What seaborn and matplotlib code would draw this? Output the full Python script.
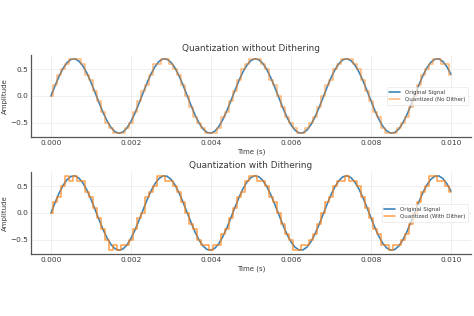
import pandas as pd
import matplotlib
matplotlib.use("Agg")
import matplotlib.pyplot as plt
import seaborn as sns

time_ms = list(range(0, 101))  # sample index, 0.1 ms apart

original_signal = [
    0.000, 0.191, 0.368, 0.516, 0.626, 0.688, 0.697, 0.654, 0.561, 0.426,
    0.258, 0.070, -0.123, -0.306, -0.466, -0.591, -0.671, -0.700, -0.676, -0.600,
    -0.479, -0.322, -0.140, 0.053, 0.241, 0.411, 0.550, 0.648, 0.696, 0.691,
    0.633, 0.528, 0.382, 0.208, 0.018, -0.174, -0.353, -0.504, -0.618, -0.684,
    -0.699, -0.660, -0.572, -0.439, -0.274, -0.088, 0.105, 0.290, 0.453, 0.581,
    0.666, 0.700, 0.680, 0.609, 0.492, 0.337, 0.157, -0.035, -0.225, -0.397,
    -0.539, -0.641, -0.693, -0.693, -0.641, -0.539, -0.397, -0.225, -0.035, 0.157,
    0.337, 0.492, 0.609, 0.680, 0.700, 0.666, 0.581, 0.453, 0.290, 0.105,
    -0.088, -0.274, -0.439, -0.572, -0.660, -0.699, -0.684, -0.618, -0.504, -0.353,
    -0.174, 0.018, 0.208, 0.382, 0.528, 0.633, 0.691, 0.696, 0.648, 0.550,
    0.411,
]

quantized_no_dither = [
    0.0, 0.2, 0.4, 0.5, 0.6, 0.7, 0.7, 0.7, 0.6, 0.4,
    0.3, 0.1, -0.1, -0.3, -0.5, -0.6, -0.7, -0.7, -0.7, -0.6,
    -0.5, -0.3, -0.1, 0.1, 0.2, 0.4, 0.6, 0.6, 0.7, 0.7,
    0.6, 0.5, 0.4, 0.2, 0.0, -0.2, -0.4, -0.5, -0.6, -0.7,
    -0.7, -0.7, -0.6, -0.4, -0.3, -0.1, 0.1, 0.3, 0.5, 0.6,
    0.7, 0.7, 0.7, 0.6, 0.5, 0.3, 0.2, 0.0, -0.2, -0.4,
    -0.5, -0.6, -0.7, -0.7, -0.6, -0.5, -0.4, -0.2, 0.0, 0.2,
    0.3, 0.5, 0.6, 0.7, 0.7, 0.7, 0.6, 0.5, 0.3, 0.1,
    -0.1, -0.3, -0.4, -0.6, -0.7, -0.7, -0.7, -0.6, -0.5, -0.4,
    -0.2, 0.0, 0.2, 0.4, 0.5, 0.6, 0.7, 0.7, 0.6, 0.6,
    0.4,
]

quantized_with_dither = [
    0.0, 0.2, 0.3, 0.5, 0.7, 0.6, 0.7, 0.6, 0.6, 0.4,
    0.3, 0.1, -0.1, -0.3, -0.5, -0.7, -0.6, -0.7, -0.6, -0.6,
    -0.5, -0.3, -0.1, 0.0, 0.3, 0.4, 0.5, 0.7, 0.7, 0.6,
    0.6, 0.5, 0.4, 0.2, 0.0, -0.2, -0.3, -0.5, -0.6, -0.6,
    -0.7, -0.6, -0.6, -0.4, -0.3, -0.1, 0.1, 0.3, 0.4, 0.6,
    0.7, 0.7, 0.6, 0.6, 0.5, 0.3, 0.2, 0.0, -0.2, -0.4,
    -0.5, -0.7, -0.7, -0.6, -0.6, -0.5, -0.4, -0.2, 0.0, 0.2,
    0.3, 0.5, 0.6, 0.6, 0.7, 0.6, 0.6, 0.5, 0.3, 0.1,
    -0.1, -0.3, -0.4, -0.6, -0.6, -0.7, -0.6, -0.6, -0.5, -0.4,
    -0.2, 0.0, 0.2, 0.4, 0.5, 0.7, 0.7, 0.6, 0.6, 0.5,
    0.4,
]

df = pd.DataFrame({
    "t": [i * 0.0001 for i in time_ms],
    "signal": original_signal,
    "q_plain": quantized_no_dither,
    "q_dither": quantized_with_dither,
})

sns.set_style("whitegrid")
plt.rcParams["font.family"] = ["DejaVu Sans"]
text_color = "#3a3a3a"
plt.rcParams.update({
    "text.color": text_color,
    "axes.labelcolor": text_color,
    "xtick.color": text_color,
    "ytick.color": text_color,
    "grid.color": "#ececec",
    "grid.linewidth": 0.6,
})

fig = plt.figure(figsize=(4.74, 3.16), dpi=100)
ax1 = fig.add_axes([0.0654, 0.5665, 0.928, 0.2595])
ax2 = fig.add_axes([0.0654, 0.1962, 0.928, 0.2595])

panels = [
    (ax1, "q_plain", "Quantized (No Dither)", "Quantization without Dithering", 0.55),
    (ax2, "q_dither", "Quantized (With Dither)", "Quantization with Dithering", 0.75),
]

for ax, col, qlabel, title, q_alpha in panels:
    sns.lineplot(data=df, x="t", y="signal", ax=ax, color="#2a77b0",
                 linewidth=1.2, alpha=0.9, label="Original Signal")
    sns.lineplot(data=df, x="t", y=col, ax=ax, color="#ff7f0e",
                 linewidth=1.1, alpha=q_alpha, drawstyle="steps-mid", label=qlabel)
    ax.set_title(title, fontsize=6.4, pad=3)
    ax.set_xlabel("Time (s)", fontsize=5.0, labelpad=2)
    ax.set_ylabel("Amplitude", fontsize=5.0, labelpad=2)
    ax.set_xlim(-0.0005, 0.0105)
    ax.set_ylim(-0.77, 0.77)
    ax.set_xticks([0.0, 0.002, 0.004, 0.006, 0.008, 0.010])
    ax.set_xticklabels(["0.000", "0.002", "0.004", "0.006", "0.008", "0.010"])
    ax.set_yticks([-0.5, 0.0, 0.5])
    ax.set_yticklabels(["\u22120.5", "0.0", "0.5"])
    ax.tick_params(labelsize=5.3, length=0, pad=2)
    sns.despine(ax=ax)
    for side in ["left", "bottom"]:
        ax.spines[side].set_color("#555555")
        ax.spines[side].set_linewidth(0.9)
    leg = ax.legend(loc="center right", fontsize=4.0, frameon=True, framealpha=0.7,
                    borderpad=0.5, handlelength=2.0, labelspacing=0.5)
    leg.get_frame().set_edgecolor("#dddddd")
    leg.get_frame().set_linewidth(0.5)

fig.savefig("out.png", dpi=100, facecolor="white")
